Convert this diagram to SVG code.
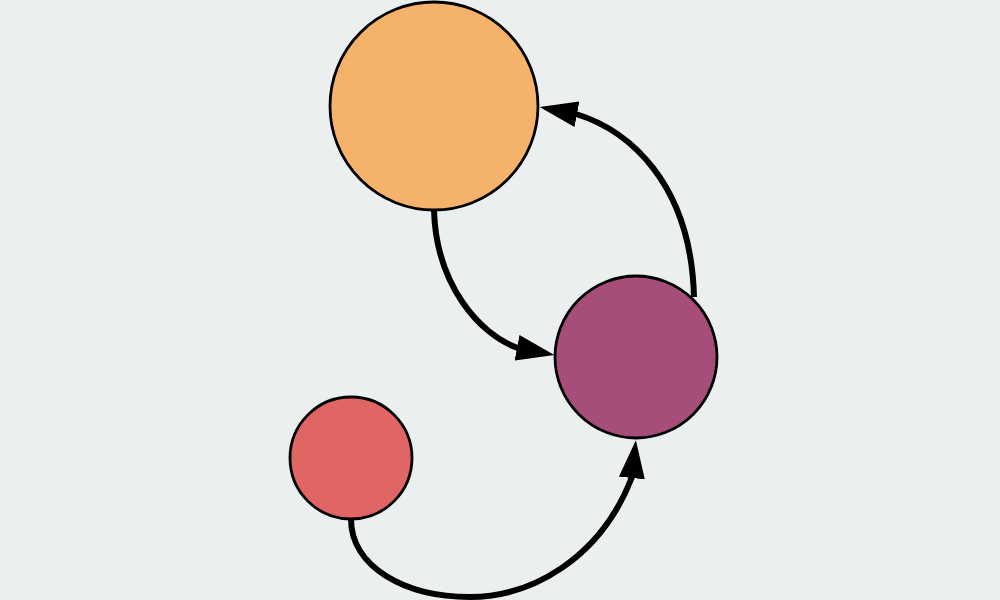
<svg xmlns="http://www.w3.org/2000/svg" width="1000" height="600" viewBox="0 0 1000 600">
<style>
.node{stroke:#000;stroke-width:2.8}
.edge{fill:none;stroke:#000;stroke-width:6}
.head{fill:#000}
</style>
<defs>
<marker id="arrow1" viewBox="0 0 38 26" markerWidth="38" markerHeight="26" refX="1" refY="13" orient="11" markerUnits="userSpaceOnUse">
<path class="head" d="M0,0 L38,13 L0,26 z"/>
</marker>
<marker id="arrow2" viewBox="0 0 38 26" markerWidth="38" markerHeight="26" refX="1" refY="13" orient="191" markerUnits="userSpaceOnUse">
<path class="head" d="M0,0 L38,13 L0,26 z"/>
</marker>
<marker id="arrow3" viewBox="0 0 38 26" markerWidth="38" markerHeight="26" refX="1" refY="13" orient="-84" markerUnits="userSpaceOnUse">
<path class="head" d="M0,0 L38,13 L0,26 z"/>
</marker>
</defs>
<rect width="1000" height="600" fill="#ebeff0"/>
<g id="edges">
<path class="edge" d="M434,210 C 436,285 480,335 518,348" marker-end="url(#arrow1)"/>
<path class="edge" d="M694,297 C 691,182 628,130 576,114" marker-end="url(#arrow2)"/>
<path class="edge" d="M351,519 C 351,567 405,597 470,597 C 530,597 600,560 632,477" marker-end="url(#arrow3)"/>
</g>
<g id="node-orange"><circle class="node" cx="434" cy="106" r="104" fill="#f5b26b"/></g>
<g id="node-purple"><circle class="node" cx="636" cy="357" r="81" fill="#a64d79"/></g>
<g id="node-red"><circle class="node" cx="351" cy="458" r="61" fill="#e06666"/></g>
</svg>
